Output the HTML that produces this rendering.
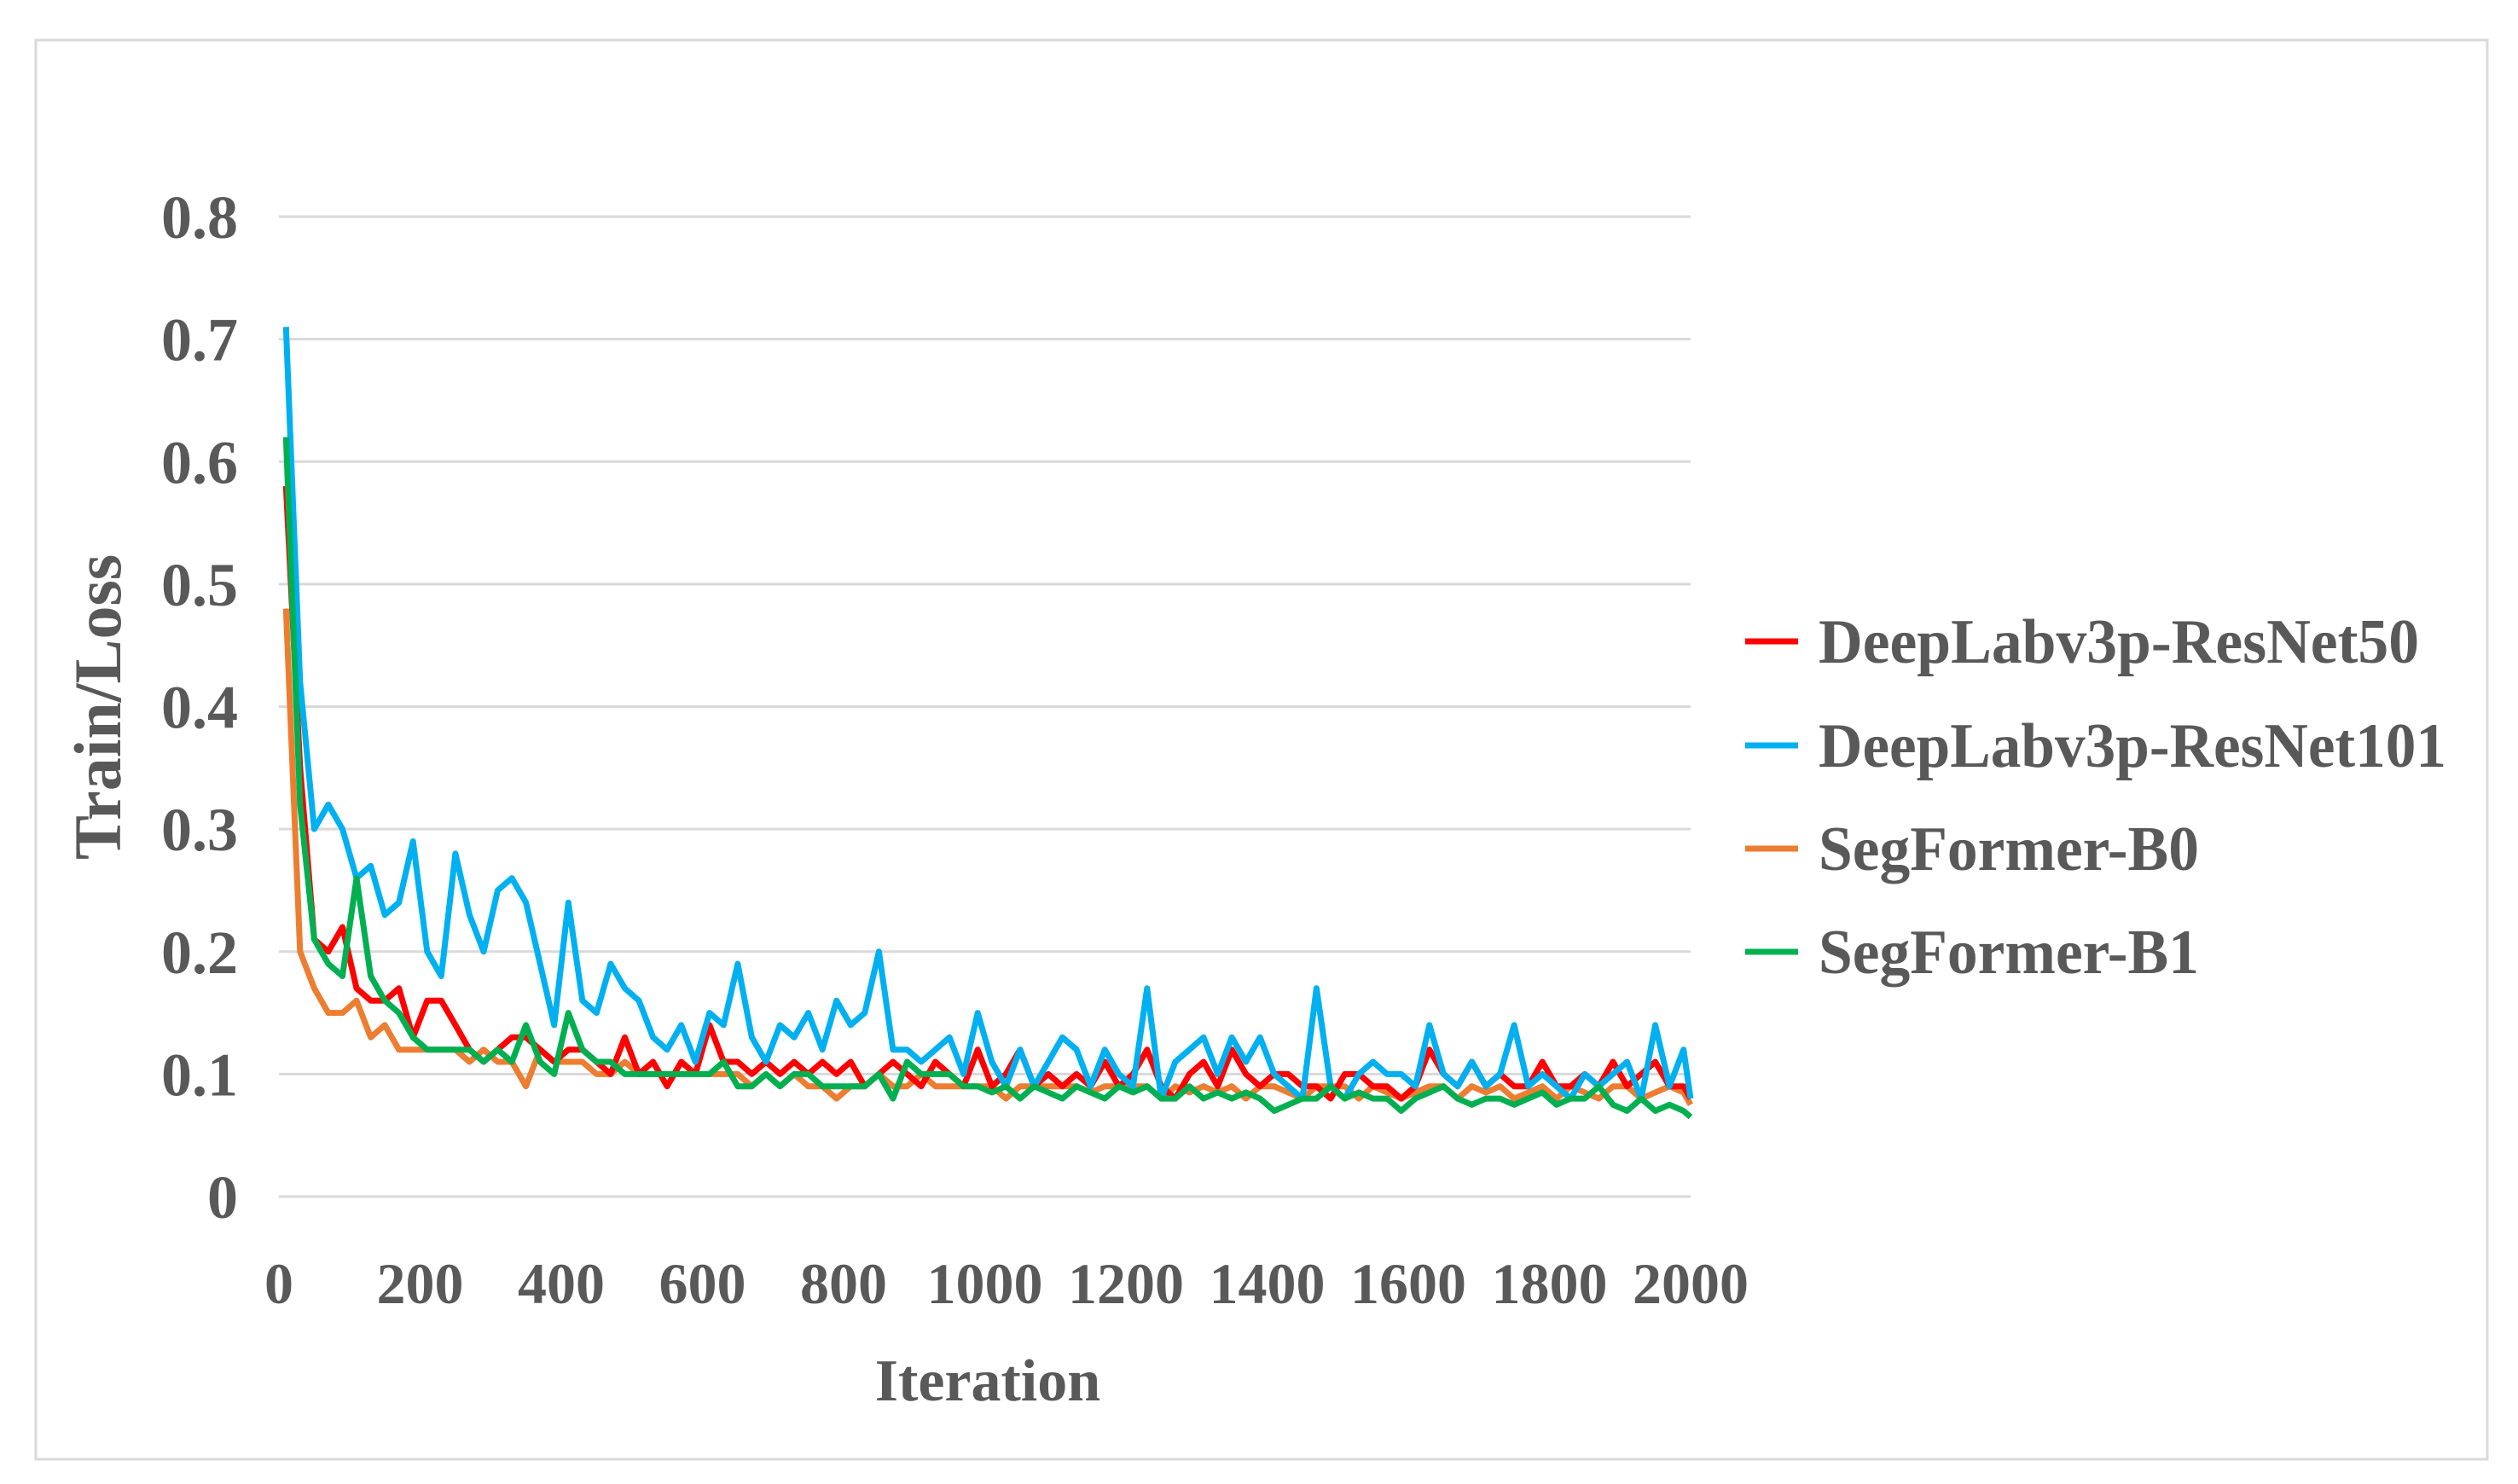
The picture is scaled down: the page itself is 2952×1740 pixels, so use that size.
<!DOCTYPE html>
<html><head><meta charset="utf-8"><style>
html,body{margin:0;padding:0;background:#fff;}
svg{display:block;}
text{font-family:"Liberation Serif",serif;font-weight:bold;fill:#595959;}
</style></head><body>
<svg id="chart" width="2952" height="1740" viewBox="0 0 2952 1740">
<rect x="42" y="47" width="2874" height="1664" fill="#fff" stroke="#d9d9d9" stroke-width="3"/>
<g id="grid"></g>
<g id="series"></g>
<g id="ticks"></g>
<text x="123" y="829" font-size="78" text-anchor="middle" transform="rotate(-90 123 829)" dominant-baseline="middle">Train/Loss</text>
<text x="1158" y="1642" font-size="70" text-anchor="middle">Iteration</text>
<g id="legend"></g>
</svg>
<script>
const xTicks = [0,200,400,600,800,1000,1200,1400,1600,1800,2000];
const yTicks = [0,0.1,0.2,0.3,0.4,0.5,0.6,0.7,0.8];
const yTickLabels = ["0","0.1","0.2","0.3","0.4","0.5","0.6","0.7","0.8"];
const seriesNames = ["DeepLabv3p-ResNet50","DeepLabv3p-ResNet101","SegFormer-B0","SegFormer-B1"];
const seriesColors = ["#ff0000","#00b0f0","#ed7d31","#00b050"];
const iterations = [];
for (let i = 0; i < 100; i++) iterations.push(10 + 20 * i);
iterations.push(2000);
const resnet50 = [0.58,0.35,0.21,0.20,0.22,0.17,0.16,0.16,0.17,0.13,0.16,0.16,0.14,0.12,0.11,0.12,0.13,0.13,0.12,0.11,
0.12,0.12,0.11,0.10,0.13,0.10,0.11,0.09,0.11,0.10,0.14,0.11,0.11,0.10,0.11,0.10,0.11,0.10,0.11,0.10,
0.11,0.09,0.10,0.11,0.10,0.09,0.11,0.10,0.09,0.12,0.09,0.10,0.12,0.09,0.10,0.09,0.10,0.09,0.11,0.09,
0.10,0.12,0.09,0.08,0.10,0.11,0.09,0.12,0.10,0.09,0.10,0.10,0.09,0.09,0.08,0.10,0.10,0.09,0.09,0.08,
0.09,0.12,0.10,0.09,0.11,0.09,0.10,0.09,0.09,0.11,0.09,0.09,0.10,0.09,0.11,0.09,0.10,0.11,0.09,0.09,0.08];
const resnet101 = [0.71,0.42,0.30,0.32,0.30,0.26,0.27,0.23,0.24,0.29,0.20,0.18,0.28,0.23,0.20,0.25,0.26,0.24,0.19,0.14,
0.24,0.16,0.15,0.19,0.17,0.16,0.13,0.12,0.14,0.11,0.15,0.14,0.19,0.13,0.11,0.14,0.13,0.15,0.12,0.16,
0.14,0.15,0.20,0.12,0.12,0.11,0.12,0.13,0.10,0.15,0.11,0.09,0.12,0.09,0.11,0.13,0.12,0.09,0.12,0.10,
0.09,0.17,0.08,0.11,0.12,0.13,0.10,0.13,0.11,0.13,0.10,0.09,0.08,0.17,0.09,0.08,0.10,0.11,0.10,0.10,
0.09,0.14,0.10,0.09,0.11,0.09,0.10,0.14,0.09,0.10,0.09,0.08,0.10,0.09,0.10,0.11,0.08,0.14,0.09,0.12,0.08];
const segB0 = [0.48,0.20,0.17,0.15,0.15,0.16,0.13,0.14,0.12,0.12,0.12,0.12,0.12,0.11,0.12,0.11,0.11,0.09,0.12,0.11,
0.11,0.11,0.10,0.10,0.11,0.10,0.10,0.10,0.10,0.10,0.10,0.10,0.10,0.09,0.10,0.09,0.10,0.09,0.09,0.08,
0.09,0.09,0.10,0.09,0.09,0.10,0.09,0.09,0.09,0.09,0.09,0.08,0.09,0.09,0.09,0.09,0.09,0.085,0.09,0.09,
0.09,0.09,0.08,0.09,0.085,0.09,0.085,0.09,0.08,0.09,0.09,0.085,0.08,0.09,0.09,0.09,0.08,0.09,0.085,0.08,
0.085,0.09,0.09,0.08,0.09,0.085,0.09,0.08,0.085,0.09,0.08,0.09,0.085,0.08,0.09,0.09,0.08,0.085,0.09,0.085,0.075];
const segB1 = [0.62,0.32,0.21,0.19,0.18,0.26,0.18,0.16,0.15,0.13,0.12,0.12,0.12,0.12,0.11,0.12,0.11,0.14,0.11,0.10,
0.15,0.12,0.11,0.11,0.10,0.10,0.10,0.10,0.10,0.10,0.10,0.11,0.09,0.09,0.10,0.09,0.10,0.10,0.09,0.09,
0.09,0.09,0.10,0.08,0.11,0.10,0.10,0.10,0.09,0.09,0.085,0.09,0.08,0.09,0.085,0.08,0.09,0.085,0.08,0.09,
0.085,0.09,0.08,0.08,0.09,0.08,0.085,0.08,0.085,0.08,0.07,0.075,0.08,0.08,0.09,0.08,0.085,0.08,0.08,0.07,
0.08,0.085,0.09,0.08,0.075,0.08,0.08,0.075,0.08,0.085,0.075,0.08,0.08,0.09,0.075,0.07,0.08,0.07,0.075,0.07,0.065];
const seriesData = [resnet50, resnet101, segB0, segB1];

const NS = "http://www.w3.org/2000/svg";
const X0 = 327, X1 = 1982, Y0 = 1403, Y1 = 254;
function xScale(v){ return X0 + (v / 2000) * (X1 - X0); }
function yScale(v){ return Y0 - (v / 0.8) * (Y0 - Y1); }
function mk(tag, attrs){ const e = document.createElementNS(NS, tag); for (const k in attrs) e.setAttribute(k, attrs[k]); return e; }

const grid = document.getElementById('grid');
const ticks = document.getElementById('ticks');
yTicks.forEach((t, i) => {
  const ln = mk('line', {x1: X0, x2: X1, y1: yScale(t), y2: yScale(t), stroke: '#d9d9d9', 'stroke-width': 3});
  
  
  grid.appendChild(ln);
  const tx = mk('text', {x: 279, y: yScale(t) + 25, 'font-size': 72, 'text-anchor': 'end'});
  tx.textContent = yTickLabels[i];
  
  
  ticks.appendChild(tx);
});
xTicks.forEach(t => {
  const tx = mk('text', {x: xScale(t), y: 1528, 'font-size': 68, 'text-anchor': 'middle'});
  tx.textContent = String(t);
  
  
  ticks.appendChild(tx);
});

const sg = document.getElementById('series');
const order = [2, 0, 1, 3];
order.forEach(s => {
  const pts = seriesData[s].map((v, i) => xScale(iterations[i]).toFixed(1) + ',' + yScale(v).toFixed(1)).join(' ');
  const pl = mk('polyline', {points: pts, fill: 'none', stroke: seriesColors[s], 'stroke-width': 7, 'stroke-linejoin': 'round'});
  
  
  sg.appendChild(pl);
});

const lg = document.getElementById('legend');
const legendY = [752, 874, 995, 1116];
const legendW = [704, 736, 446, 446];
seriesNames.forEach((n, i) => {
  const ln = mk('line', {x1: 2046, x2: 2108, y1: legendY[i], y2: legendY[i], stroke: seriesColors[i], 'stroke-width': 7});
  
  
  lg.appendChild(ln);
  const tx = mk('text', {x: 2132, y: legendY[i] + 25, 'font-size': 74, textLength: legendW[i], lengthAdjust: 'spacingAndGlyphs'});
  tx.textContent = n;
  
  
  lg.appendChild(tx);
});
</script>
</body></html>
